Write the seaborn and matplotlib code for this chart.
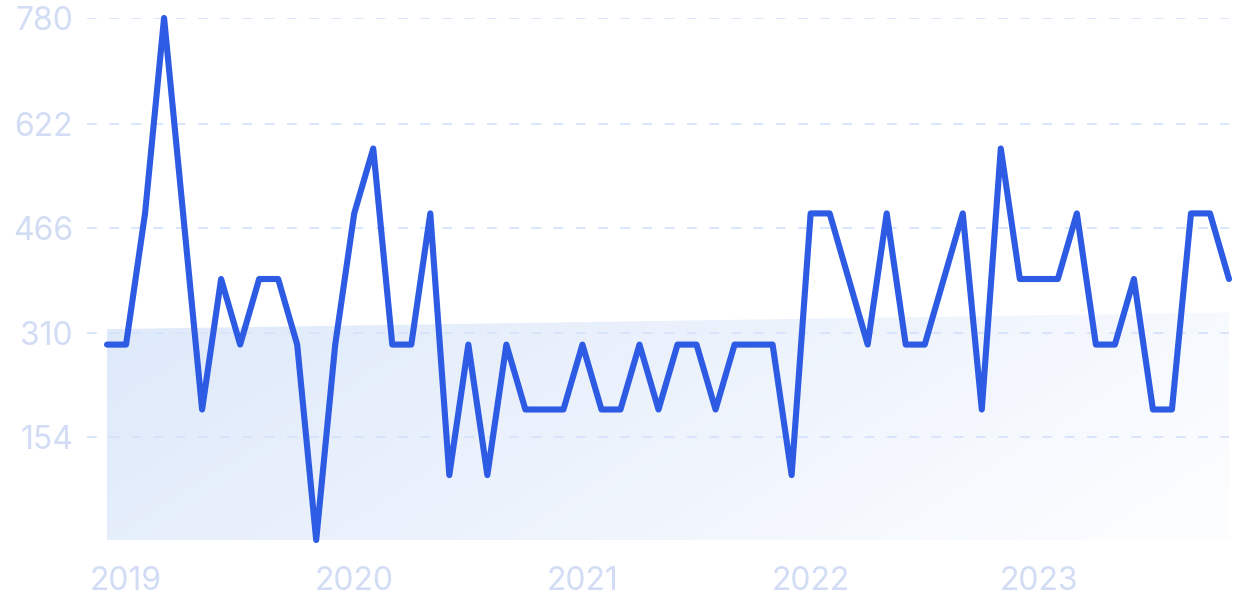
import numpy as np
import pandas as pd
import matplotlib
matplotlib.use("Agg")
import matplotlib.pyplot as plt
from matplotlib.colors import LinearSegmentedColormap
import seaborn as sns

# monthly values (60 points)
values = [292, 292, 488, 780, 488, 195, 390, 292, 390, 390, 292, 0,
          292, 488, 585, 292, 292, 488, 97, 292, 97, 292, 195, 195,
          195, 292, 195, 195, 292, 195, 292, 292, 195, 292, 292, 292,
          97, 488, 488, 390, 292, 488, 292, 292, 390, 488, 195, 585,
          390, 390, 390, 488, 292, 292, 390, 195, 195, 488, 488, 390]
months = list(range(len(values)))

year_labels = ["2019", "2020", "2021", "2022", "2023"]
year_ticks = [1, 13, 25, 37, 49]
y_ticks = [154, 310, 466, 622, 780]
# level of the shaded band at first and last month
band_ends = [315, 340]

df = pd.DataFrame({"month": months, "value": values})

sns.set_theme(style="white")
plt.rcParams["font.family"] = ["Inter", "DejaVu Sans"]
plt.rcParams["lines.scale_dashes"] = False

line_color = "#2d5be3"
label_color = "#d2dcf4"
grid_color = "#d5e3fb"

fig = plt.figure(figsize=(12.34, 6.16), dpi=100)
ax = fig.add_axes([87 / 1234, 1 - 540 / 616, (1229 - 87) / 1234, (540 - 18) / 616])

x0, x1 = -20 / 19, months[-1]
ax.set_xlim(x0, x1)
ax.set_ylim(0, 780)

# gradient band
band_x = [months[0], months[-1]]
poly = ax.fill_between(band_x, 0, band_ends, color="none", lw=0)
cmap = LinearSegmentedColormap.from_list("band", ["#dee9fa", "#fcfdff"])
gx, gy = np.meshgrid(np.linspace(0, 1, 300), np.linspace(0, 1, 100))
grad = 0.8 * gx + 0.25 * (1 - gy)
img = ax.imshow(grad, cmap=cmap, extent=[months[0], months[-1], 0, max(band_ends)],
                origin="lower", aspect="auto", vmin=0, vmax=1, zorder=1)
img.set_clip_path(poly.get_paths()[0], transform=ax.transData)

# dashed horizontal grid
for t in y_ticks:
    ax.axhline(t, color=grid_color, lw=1.3, dashes=(7, 9), zorder=2)

sns.lineplot(data=df, x="month", y="value", ax=ax, color=line_color,
             linewidth=4.4, zorder=3, clip_on=False)
for ln in ax.lines[-1:]:
    ln.set_solid_joinstyle("round")
    ln.set_solid_capstyle("round")

ax.set_xticks(year_ticks, year_labels)
ax.set_yticks(y_ticks, [str(t) for t in y_ticks])
ax.tick_params(axis="both", length=0, labelsize=23, colors=label_color)
ax.tick_params(axis="x", pad=19)
ax.tick_params(axis="y", pad=10)
ax.set_xlabel("")
ax.set_ylabel("")
for s in ax.spines.values():
    s.set_visible(False)

fig.savefig("out.png", dpi=100, facecolor="white")
